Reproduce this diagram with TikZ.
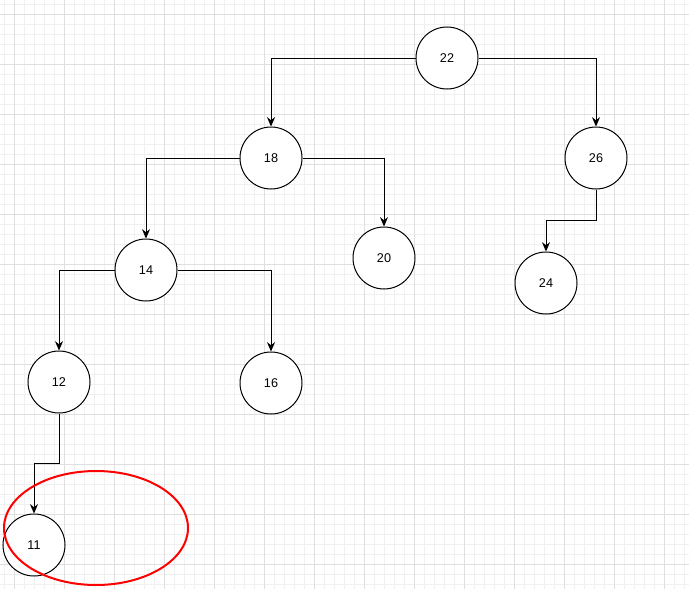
\documentclass[tikz,border=0pt]{standalone}
\usepackage{fontspec}
\setmainfont{Liberation Sans}
\usetikzlibrary{arrows.meta,shapes.geometric}
\begin{document}
\begin{tikzpicture}[x=0.75pt,y=-0.75pt,
  nd/.style={circle,draw,line width=0.75pt,minimum size=46.5pt,inner sep=0pt,font=\fontsize{9.5}{11}\selectfont,fill=white},
  ed/.style={draw,line width=0.75pt,-{Stealth[length=7pt,width=6pt]}}]
\useasboundingbox (0,0) rectangle (689,589);
\fill[white] (0,0) rectangle (689,589);
\foreach \x in {0,10,...,680} \draw[gray!12] (\x+4,0) -- (\x+4,589);
\foreach \y in {0,10,...,580} \draw[gray!12] (0,\y+4) -- (689,\y+4);
\foreach \x in {0,50,...,650} \draw[gray!25] (\x+14,0) -- (\x+14,589);
\foreach \y in {0,50,...,550} \draw[gray!25] (0,\y+14) -- (689,\y+14);
\node[nd] (n22) at (447,58) {22};
\node[nd] (n18) at (271,158) {18};
\node[nd] (n26) at (596,158) {26};
\node[nd] (n14) at (146,270) {14};
\node[nd] (n20) at (384,258) {20};
\node[nd] (n24) at (546,283) {24};
\node[nd] (n12) at (59,382) {12};
\node[nd] (n16) at (271,383) {16};
\node[nd] (n11) at (34,545) {11};
\coordinate (b26) at (596,220);
\coordinate (b12) at (59,463);
\draw[ed] (n22.west) -| (n18.north);
\draw[ed] (n22.east) -| (n26.north);
\draw[ed] (n18.west) -| (n14.north);
\draw[ed] (n18.east) -| (n20.north);
\draw[ed] (n14.west) -| (n12.north);
\draw[ed] (n14.east) -| (n16.north);
\draw[ed] (n26.south) -- (b26) -| (n24.north);
\draw[ed] (n12.south) -- (b12) -| (n11.north);
\node[draw=red,line width=1.5pt,ellipse,minimum width=138pt,minimum height=85.5pt] (ov) at (96,528) {};
\end{tikzpicture}
\end{document}
